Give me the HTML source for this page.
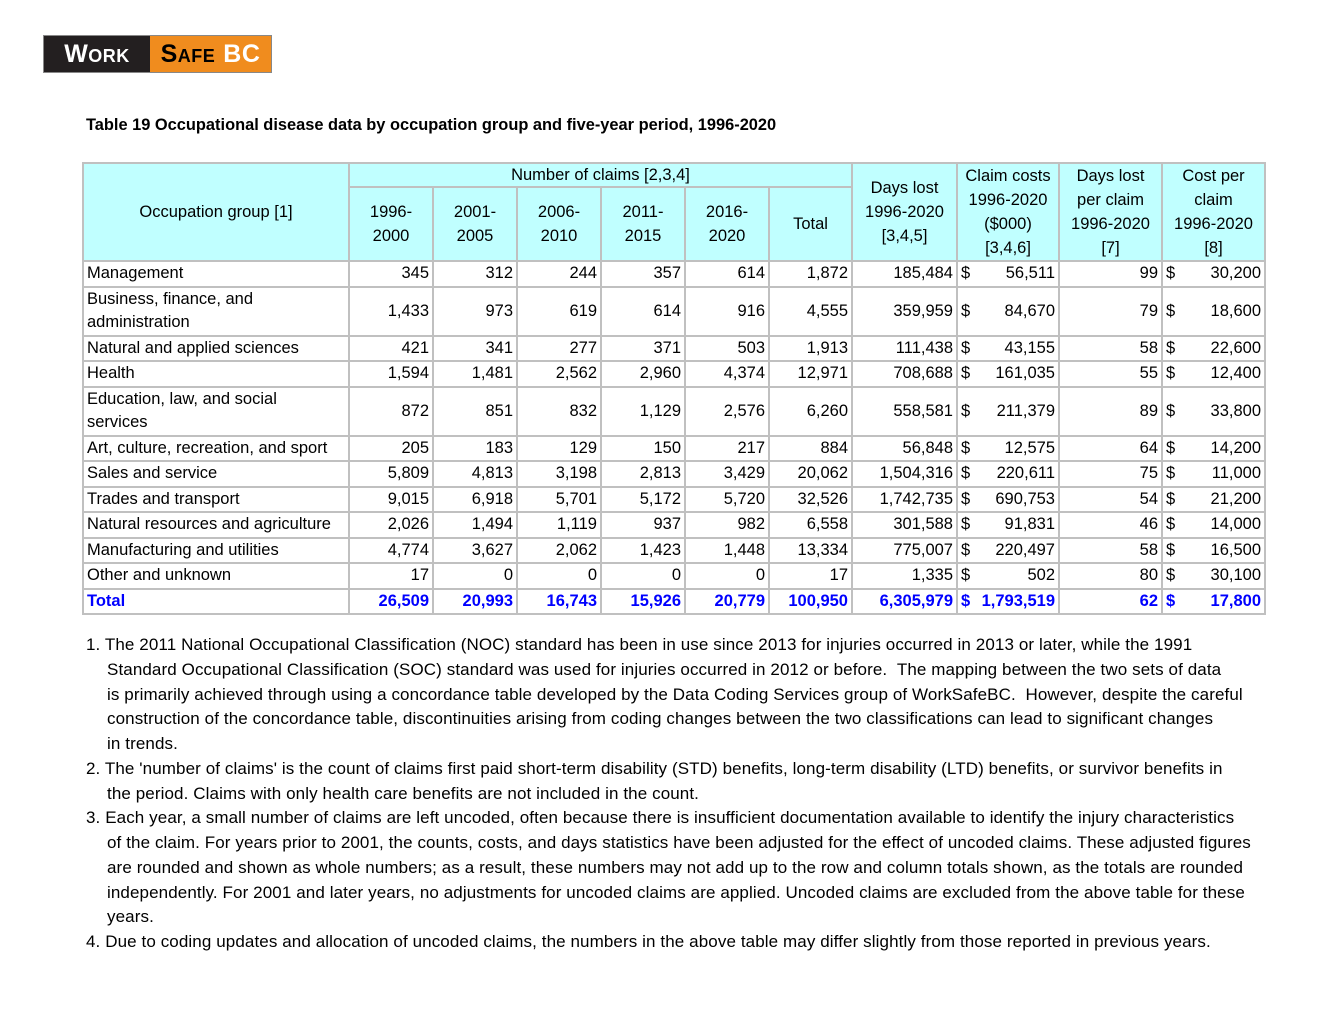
<!DOCTYPE html>
<html><head><meta charset="utf-8"><style>
body{margin:0;width:1320px;height:1016px;background:#fff;font-family:"Liberation Sans",Arial,sans-serif;color:#000;position:relative;overflow:hidden}
.logo{position:absolute;left:43px;top:35px;width:229px;height:38px;border:1px solid #888;box-sizing:border-box;display:flex;font-weight:bold;font-size:25px;letter-spacing:0.5px}
.logo .a{background:#231f20;color:#fff;width:106px;display:flex;align-items:center;justify-content:center;font-variant:small-caps}
.logo .b{background:#f08c1e;flex:1;display:flex;align-items:center;justify-content:center;font-variant:small-caps}
.logo .b span{color:#fff;margin-left:8px}
.title{position:absolute;left:86px;top:116px;font-size:16.4px;font-weight:bold}
table{position:absolute;left:82px;top:162px;border-collapse:collapse;font-size:16.5px;table-layout:fixed}
td{border:2px solid #c0c0c0;padding:0 3px;white-space:nowrap;line-height:21px;height:21px}
thead td{background:#c0ffff;text-align:center;vertical-align:middle;line-height:24px}
tbody td{text-align:right}
tbody td.l{text-align:left;line-height:23.5px}
.d{display:flex;justify-content:space-between}
tr.tot td{color:#0000ff;font-weight:bold}
.notes{position:absolute;left:86px;top:633px;width:1220px;font-size:17px;letter-spacing:0.1px;line-height:24.75px;white-space:nowrap}
.notes div{padding-left:21px;text-indent:-21px}
</style></head><body>
<div class="logo"><div class="a">Work</div><div class="b">Safe<span>BC</span></div></div>
<div class="title">Table 19 Occupational disease data by occupation group and five-year period, 1996-2020</div>
<table>
<colgroup><col style="width:266px"><col style="width:84px"><col style="width:84px"><col style="width:84px"><col style="width:84px"><col style="width:84px"><col style="width:83px"><col style="width:105px"><col style="width:102px"><col style="width:103px"><col style="width:103px"></colgroup>
<thead>
<tr style="height:24px"><td rowspan="2">Occupation group [1]</td><td colspan="6" style="line-height:20px">Number of claims [2,3,4]</td><td rowspan="2">Days lost<br>1996-2020<br>[3,4,5]</td><td rowspan="2">Claim costs<br>1996-2020<br>($000)<br>[3,4,6]</td><td rowspan="2">Days lost<br>per claim<br>1996-2020<br>[7]</td><td rowspan="2">Cost per<br>claim<br>1996-2020<br>[8]</td></tr>
<tr style="height:73px"><td>1996-<br>2000</td><td>2001-<br>2005</td><td>2006-<br>2010</td><td>2011-<br>2015</td><td>2016-<br>2020</td><td>Total</td></tr>
</thead>
<tbody>
<tr><td class="l">Management</td><td>345</td><td>312</td><td>244</td><td>357</td><td>614</td><td>1,872</td><td>185,484</td><td><div class="d"><span>$</span><span>56,511</span></div></td><td>99</td><td><div class="d"><span>$</span><span>30,200</span></div></td></tr>
<tr><td class="l">Business, finance, and<br>administration</td><td>1,433</td><td>973</td><td>619</td><td>614</td><td>916</td><td>4,555</td><td>359,959</td><td><div class="d"><span>$</span><span>84,670</span></div></td><td>79</td><td><div class="d"><span>$</span><span>18,600</span></div></td></tr>
<tr><td class="l">Natural and applied sciences</td><td>421</td><td>341</td><td>277</td><td>371</td><td>503</td><td>1,913</td><td>111,438</td><td><div class="d"><span>$</span><span>43,155</span></div></td><td>58</td><td><div class="d"><span>$</span><span>22,600</span></div></td></tr>
<tr><td class="l">Health</td><td>1,594</td><td>1,481</td><td>2,562</td><td>2,960</td><td>4,374</td><td>12,971</td><td>708,688</td><td><div class="d"><span>$</span><span>161,035</span></div></td><td>55</td><td><div class="d"><span>$</span><span>12,400</span></div></td></tr>
<tr><td class="l">Education, law, and social<br>services</td><td>872</td><td>851</td><td>832</td><td>1,129</td><td>2,576</td><td>6,260</td><td>558,581</td><td><div class="d"><span>$</span><span>211,379</span></div></td><td>89</td><td><div class="d"><span>$</span><span>33,800</span></div></td></tr>
<tr><td class="l">Art, culture, recreation, and sport</td><td>205</td><td>183</td><td>129</td><td>150</td><td>217</td><td>884</td><td>56,848</td><td><div class="d"><span>$</span><span>12,575</span></div></td><td>64</td><td><div class="d"><span>$</span><span>14,200</span></div></td></tr>
<tr><td class="l">Sales and service</td><td>5,809</td><td>4,813</td><td>3,198</td><td>2,813</td><td>3,429</td><td>20,062</td><td>1,504,316</td><td><div class="d"><span>$</span><span>220,611</span></div></td><td>75</td><td><div class="d"><span>$</span><span>11,000</span></div></td></tr>
<tr><td class="l">Trades and transport</td><td>9,015</td><td>6,918</td><td>5,701</td><td>5,172</td><td>5,720</td><td>32,526</td><td>1,742,735</td><td><div class="d"><span>$</span><span>690,753</span></div></td><td>54</td><td><div class="d"><span>$</span><span>21,200</span></div></td></tr>
<tr><td class="l">Natural resources and agriculture</td><td>2,026</td><td>1,494</td><td>1,119</td><td>937</td><td>982</td><td>6,558</td><td>301,588</td><td><div class="d"><span>$</span><span>91,831</span></div></td><td>46</td><td><div class="d"><span>$</span><span>14,000</span></div></td></tr>
<tr><td class="l">Manufacturing and utilities</td><td>4,774</td><td>3,627</td><td>2,062</td><td>1,423</td><td>1,448</td><td>13,334</td><td>775,007</td><td><div class="d"><span>$</span><span>220,497</span></div></td><td>58</td><td><div class="d"><span>$</span><span>16,500</span></div></td></tr>
<tr><td class="l">Other and unknown</td><td>17</td><td>0</td><td>0</td><td>0</td><td>0</td><td>17</td><td>1,335</td><td><div class="d"><span>$</span><span>502</span></div></td><td>80</td><td><div class="d"><span>$</span><span>30,100</span></div></td></tr>
<tr class="tot"><td class="l">Total</td><td>26,509</td><td>20,993</td><td>16,743</td><td>15,926</td><td>20,779</td><td>100,950</td><td>6,305,979</td><td><div class="d"><span>$</span><span>1,793,519</span></div></td><td>62</td><td><div class="d"><span>$</span><span>17,800</span></div></td></tr>
</tbody></table>
<div class="notes">
<div>1. The 2011 National Occupational Classification (NOC) standard has been in use since 2013 for injuries occurred in 2013 or later, while the 1991<br>Standard Occupational Classification (SOC) standard was used for injuries occurred in 2012 or before. &nbsp;The mapping between the two sets of data<br>is primarily achieved through using a concordance table developed by the Data Coding Services group of WorkSafeBC. &nbsp;However, despite the careful<br>construction of the concordance table, discontinuities arising from coding changes between the two classifications can lead to significant changes<br>in trends.</div>
<div>2. The 'number of claims' is the count of claims first paid short-term disability (STD) benefits, long-term disability (LTD) benefits, or survivor benefits in<br>the period. Claims with only health care benefits are not included in the count.</div>
<div>3. Each year, a small number of claims are left uncoded, often because there is insufficient documentation available to identify the injury characteristics<br>of the claim. For years prior to 2001, the counts, costs, and days statistics have been adjusted for the effect of uncoded claims. These adjusted figures<br>are rounded and shown as whole numbers; as a result, these numbers may not add up to the row and column totals shown, as the totals are rounded<br>independently. For 2001 and later years, no adjustments for uncoded claims are applied. Uncoded claims are excluded from the above table for these<br>years.</div>
<div>4. Due to coding updates and allocation of uncoded claims, the numbers in the above table may differ slightly from those reported in previous years.</div>
</div>
</body></html>
